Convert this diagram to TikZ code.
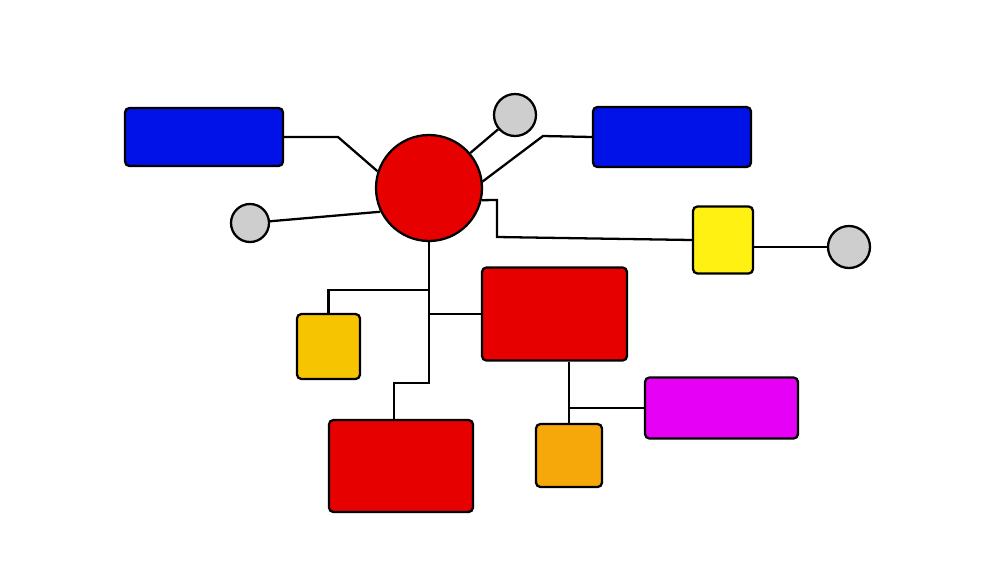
\documentclass[tikz,border=0pt]{standalone}
\usepackage{tikz}
\usetikzlibrary{positioning,calc}
\definecolor{cblue}{RGB}{0,18,232}
\definecolor{cred}{RGB}{230,0,0}
\definecolor{cgray}{RGB}{206,206,206}
\definecolor{cyellow}{RGB}{255,242,18}
\definecolor{cgold}{RGB}{246,196,0}
\definecolor{corange}{RGB}{246,168,10}
\definecolor{cmagenta}{RGB}{230,0,245}
\tikzset{
box/.style args = {#1/#2/#3}{
            draw=black, fill=#1, rounded corners=2.5pt,
            minimum width=#2, minimum height=#3,
            inner sep=0pt, line width=1.3pt},
dot/.style args = {#1/#2}{
            draw=black, fill=#1, circle,
            minimum size=#2, inner sep=0pt, line width=1.3pt},
wire/.style = {line width=1.3pt, black}}

\begin{document}
\begin{tikzpicture}[x={(0.02cm,0)},y={(0,-0.02cm)}]
  \useasboundingbox (0,0) rectangle (1000,562);

  % hub and the things round it
  \node[dot=cred/2.12cm] (hub) at (429,188) {};
  \node[box=cblue/3.16cm/1.16cm] (blueL) at (204,137) {};
  \node[box=cblue/3.16cm/1.2cm] (blueR) at (672,137) {};
  \node[dot=cgray/0.84cm] (grayT) at (515,115) {};
  \node[dot=cgray/0.76cm] (grayL) at (250,223) {};
  \node[dot=cgray/0.84cm] (grayR) at (849,247) {};
  \node[box=cyellow/1.2cm/1.34cm] (yellow) at (723,240) {};

  % lower tree
  \node[box=cred/2.9cm/1.86cm] (redM) at (554.5,314) {};
  \node[box=cgold/1.26cm/1.3cm] (gold) at (328.5,346.5) {};
  \node[box=cred/2.88cm/1.84cm] (redB) at (401,466) {};
  \node[box=corange/1.32cm/1.26cm] (orange) at (569,455.5) {};
  \node[box=cmagenta/3.06cm/1.22cm] (magenta) at (721.5,408) {};

  \coordinate (bendL) at (338,137);
  \coordinate (bendR) at (543,136);
  \coordinate (bendY) at (497,200);
  \coordinate (forkG) at (429,290);
  \coordinate (forkB) at (394,383);

  \draw[wire] (blueL.east) -- (bendL) -- (hub.162);
  \draw[wire] (blueR.west) -- (bendR) -- (hub.7);
  \draw[wire] (hub) -- (grayT);
  \draw[wire] (grayL) -- (hub.206);
  \draw[wire] (hub.-13) -- (bendY) -- (bendY |- 0,237) -- (yellow.west);
  \draw[wire] (grayR.west) -- (grayR.west -| yellow.east);

  \draw[wire] (hub.south) |- (forkB) -- (forkB |- redB.north);
  \draw[wire] (forkG) -| (gold.north);
  \draw[wire] (redM.west) -- (redM.west -| hub.south);
  \draw[wire] (orange.north) -- (orange.north |- redM.south);
  \draw[wire] (magenta.west) -- (magenta.west -| orange.north);
\end{tikzpicture}
\end{document}
